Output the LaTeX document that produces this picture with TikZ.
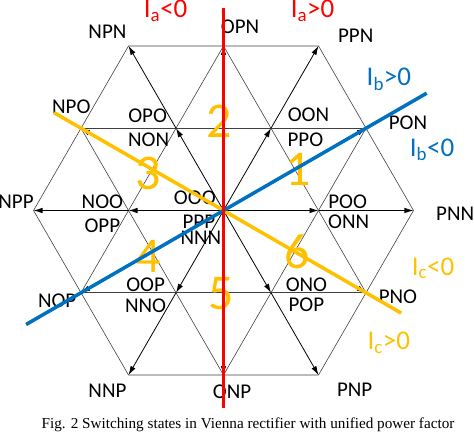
\documentclass[tikz,border=0pt]{standalone}
\usepackage{fontspec}
\setmainfont{Carlito}
\newfontfamily\captionfont{Liberation Serif}
\usepackage{xcolor}
\usepackage{tikz}
\usetikzlibrary{arrows.meta}

\definecolor{phasea}{RGB}{255,0,0}
\definecolor{phaseb}{RGB}{0,112,192}
\definecolor{phasec}{RGB}{255,192,0}

\begin{document}
\begin{tikzpicture}[x=95pt,y=95pt,>={Latex[length=9pt,width=5.5pt]}]
    \tikzstyle{grid}=[draw=black!75, line width=0.6pt]
    \tikzstyle{vec}=[->, draw=black, line width=0.8pt]
    \tikzstyle{state}=[font=\fontsize{21}{21}\selectfont, inner sep=0pt]
    \tikzstyle{sector}=[text=phasec, font=\fontsize{50}{50}\selectfont, inner sep=0pt]
    \tikzstyle{sign}=[font=\fontsize{27}{27}\selectfont, inner sep=0pt]
    \tikzstyle{axis}=[line width=3.5pt]
    %\draw[help lines] (-2,-2) grid (2,2);
    \useasboundingbox (-2.353,-2.374) rectangle (2.637,2.216);

    \coordinate (c) at (0,0);
    \foreach \k in {0,...,5} {
        \coordinate (i\k) at (60*\k:1);
        \coordinate (o\k) at (60*\k:2);
        \coordinate (m\k) at (30+60*\k:1.732);
    }

    % hexagon and inner chords
    \draw[grid] (o0) -- (o1) -- (o2) -- (o3) -- (o4) -- (o5) -- cycle;
    \foreach \k in {0,...,5} {
        \pgfmathtruncatemacro{\j}{mod(\k+2,6)}
        \draw[grid] (m\k) -- (m\j);
    }

    % voltage vectors
    \foreach \k in {0,...,5} {
        \draw[vec] (c) -- (i\k);
        \draw[vec] (i\k) -- (o\k);
        \draw[vec] (c) -- (m\k);
    }

    % switching states
    \foreach \lbl/\x/\y in {NPN/-1.222/1.878, OPN/0.175/1.931, PPN/1.392/1.836,
            NPO/-1.603/1.095, OPO/-0.799/1.0, NON/-0.788/0.746,
            OON/0.894/1.011, PPO/0.862/0.746, PON/1.942/0.926,
            NPP/-2.185/0.09, NOO/-1.275/0.09, OPP/-1.275/-0.164,
            OOO/-0.302/0.132, PPP/-0.259/-0.122, NNN/-0.238/-0.291,
            POO/1.307/0.09, ONN/1.317/-0.122, PNN/2.439/-0.037,
            NOP/-1.751/-0.947, OOP/-0.820/-0.778, NNO/-0.820/-1.0,
            ONO/0.873/-0.778, POP/0.873/-0.989, PNO/1.836/-0.905,
            NNP/-1.222/-1.899, ONP/0.090/-1.910, PNP/1.381/-1.889}
        \node[state] (\lbl) at (\x,\y) {\lbl};

    % sectors
    \foreach \n/\x/\y in {1/0.788/0.429, 2/-0.048/0.937, 3/-0.788/0.386,
            4/-0.788/-0.481, 5/-0.026/-0.873, 6/0.778/-0.439}
        \node[sector] (sec\n) at (\x,\y) {\n};

    % current sign boundaries
    \draw[axis, phasec] (150:2.06) -- (330:2.16);
    \draw[axis, phaseb] (210:2.4) -- (30:2.47);
    \draw[axis, phasea] (0,2.13) -- (0,-2.08);

    \node[sign, text=phasea] (ianeg) at (-0.609,2.101) {I\textsubscript{a}<0};
    \node[sign, text=phasea] (iapos) at (0.937,2.101) {I\textsubscript{a}>0};
    \node[sign, text=phaseb] (ibpos) at (1.741,1.381) {I\textsubscript{b}>0};
    \node[sign, text=phaseb] (ibneg) at (2.196,0.640) {I\textsubscript{b}<0};
    \node[sign, text=phasec] (icneg) at (2.206,-0.608) {I\textsubscript{c}<0};
    \node[sign, text=phasec] (icpos) at (1.741,-1.392) {I\textsubscript{c}>0};

    \node[font=\captionfont\fontsize{15.2}{15.2}\selectfont, inner sep=0pt] (caption)
        at (0.258,-2.258) {Fig. 2 Switching states in Vienna rectifier with unified power factor};
\end{tikzpicture}
\end{document}
